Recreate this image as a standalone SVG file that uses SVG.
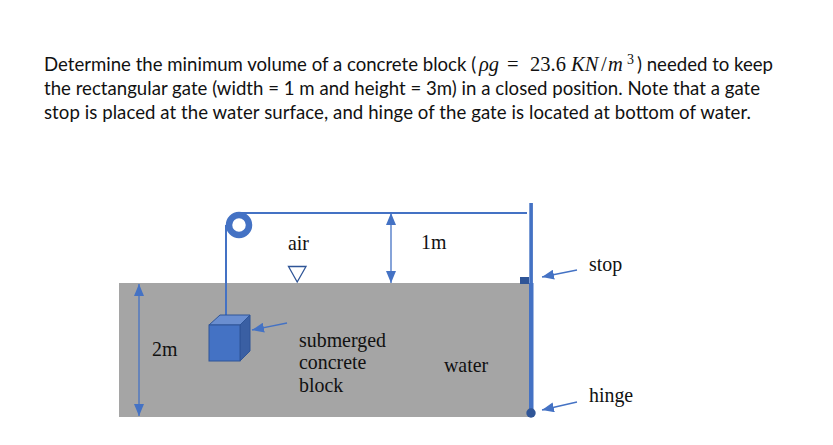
<svg xmlns="http://www.w3.org/2000/svg" width="833" height="445" viewBox="0 0 833 445">
<style>
.q{font-family:Lato,"Liberation Sans",sans-serif;font-size:18.6px;fill:#111}
.m{font-family:"Liberation Serif",serif;font-size:20.5px;fill:#111}
.i{font-style:italic}
.t{font-family:"Liberation Serif",serif;font-size:19.9px;fill:#111}
.ln{stroke:#4472c4;fill:none}
.a{stroke:#4472c4;stroke-width:1.3;fill:none}
</style>
<defs>
<marker id="ah" markerUnits="userSpaceOnUse" markerWidth="12" markerHeight="10" refX="12" refY="5" orient="auto-start-reverse" viewBox="0 0 12 10"><path d="M0,0L12,5L0,10Z" fill="#4472c4"/></marker>
</defs>
<rect width="833" height="445" fill="#fff"/>
<g id="question">
<text class="q" y="71"><tspan x="44">Determine the minimum volume of a concrete block (</tspan><tspan class="m i" x="479">ρg</tspan><tspan class="m" x="507">=</tspan><tspan class="m" x="530">23.6</tspan><tspan class="m i" x="571">KN</tspan><tspan class="m" x="601">/</tspan><tspan class="m i" x="608">m</tspan><tspan class="m" x="627" y="64" style="font-size:14px">3</tspan><tspan x="637" y="71">) needed to keep</tspan></text>
<text class="q" x="44" y="95" textLength="716" lengthAdjust="spacing">the rectangular gate (width = 1 m and height = 3m) in a closed position. Note that a gate</text>
<text class="q" x="44" y="119" textLength="707" lengthAdjust="spacing">stop is placed at the water surface, and hinge of the gate is located at bottom of water.</text>
</g>
<g id="water"><rect x="119" y="283" width="411" height="134" fill="#a5a5a5"/><text class="t" x="444" y="372">water</text></g>
<g id="surface"><path d="M288.500 266.500H306L297.200 282Z" fill="#fff" stroke="#2f5597" stroke-width="1.300"/></g>
<g id="air"><text class="t" x="288" y="250">air</text></g>
<g id="connectors">
<path class="ln" stroke-width="2" d="M239 213H527"/>
<path class="ln" stroke-width="2" d="M226 225V315"/>
<path class="a" d="M139 284V416" marker-start="url(#ah)" marker-end="url(#ah)"/>
<path class="a" d="M391 213V283" marker-start="url(#ah)" marker-end="url(#ah)"/>
<path class="a" d="M287 323L252 330" marker-end="url(#ah)"/>
<path class="a" d="M577 270L542 277" marker-end="url(#ah)"/>
<path class="a" d="M577 402L542 410" marker-end="url(#ah)"/>
</g>
<g id="pulley"><circle cx="239" cy="225" r="10" fill="#fff" stroke="#4472c4" stroke-width="6.500"/></g>
<g id="block">
<path d="M209 325L220 315H250L240 325Z" fill="#6a8ed0" stroke="#2f5597" stroke-width="1"/>
<path d="M240 325L250 315V351L240 361Z" fill="#3a5fa3" stroke="#2f5597" stroke-width="1"/>
<rect x="209" y="325" width="31" height="36" fill="#4472c4" stroke="#2f5597" stroke-width="1"/>
<text class="t" x="299" y="347">submerged</text><text class="t" x="299" y="369">concrete</text><text class="t" x="299" y="392">block</text>
</g>
<g id="gate"><rect x="529.300" y="203" width="3.600" height="80" fill="#4472c4"/><rect x="529" y="283" width="4.500" height="131" fill="#4472c4"/></g>
<g id="stop"><rect x="520" y="277" width="9" height="7" fill="#2f5597"/><text class="t" x="589" y="271">stop</text></g>
<g id="hinge"><circle cx="531" cy="413" r="4.700" fill="#2f5597"/><text class="t" x="589" y="402">hinge</text></g>
<g id="dim-2m"><text class="t" x="152" y="356">2m</text></g>
<g id="dim-1m"><text class="t" x="421" y="249">1m</text></g>
</svg>
